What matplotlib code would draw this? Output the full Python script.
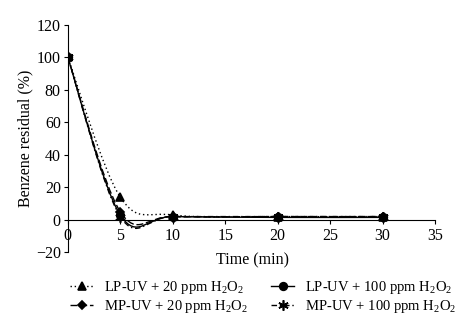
import numpy as np
import matplotlib
matplotlib.use("Agg")
import matplotlib.pyplot as plt
from matplotlib.path import Path
from matplotlib.patches import PathPatch
from matplotlib.lines import Line2D

plt.rcParams['font.family'] = ['Liberation Serif', 'DejaVu Serif']
plt.rcParams['mathtext.fontset'] = 'custom'
plt.rcParams['mathtext.rm'] = 'Liberation Serif'

time_min = [0, 5, 10, 20, 30]
lp_uv_20 = [100, 14, 3, 2, 2]
lp_uv_100 = [100, 3, 2, 1.5, 1.5]
mp_uv_20 = [100, 5, 2, 2, 2]
mp_uv_100 = [100, 2, 2, 2, 2]
labels = [r'LP-UV + 20 ppm H$_2$O$_2$', r'LP-UV + 100 ppm H$_2$O$_2$',
          r'MP-UV + 20 ppm H$_2$O$_2$', r'MP-UV + 100 ppm H$_2$O$_2$']

FS = 11.5
LFS = 10.5
fig = plt.figure(figsize=(4.74, 3.32), dpi=100)
ax = fig.add_axes([0.143, 0.24, 0.775, 0.685])


def smooth_path(x, y):
    x = np.asarray(x, float)
    y = np.asarray(y, float)
    verts = [(x[0], y[0])]
    codes = [Path.MOVETO]
    n = len(x)
    for i in range(n - 1):
        x0, y0 = (x[i - 1], y[i - 1]) if i > 0 else (x[i], y[i])
        x3, y3 = (x[i + 2], y[i + 2]) if i + 2 < n else (x[i + 1], y[i + 1])
        c1 = (x[i] + (x[i + 1] - x0) / 6, y[i] + (y[i + 1] - y0) / 6)
        c2 = (x[i + 1] - (x3 - x[i]) / 6, y[i + 1] - (y3 - y[i]) / 6)
        verts += [c1, c2, (x[i + 1], y[i + 1])]
        codes += [Path.CURVE4] * 3
    return Path(verts, codes)


series = [
    (lp_uv_20, (0, (1, 2)), '^', 5.5),
    (lp_uv_100, '-', 'o', 5.5),
    (mp_uv_20, (0, (5, 2)), 'D', 4.5),
    (mp_uv_100, (0, (4, 2, 1, 2)), (6, 2, 0), 7.5),
]
handles = []
for (vals, ls, mk, ms), lab in zip(series, labels):
    patch = PathPatch(smooth_path(time_min, vals), fill=False, edgecolor='black',
                      linewidth=1.0, linestyle=ls)
    ax.add_patch(patch)
    ax.plot(time_min, vals, linestyle='none', marker=mk, color='black',
            markersize=ms, markeredgewidth=1.2)
    handles.append(Line2D([], [], color='black', linestyle=ls, marker=mk,
                          markersize=ms, linewidth=1.0, markeredgewidth=1.2))

ax.set_xlim(0, 35)
ax.set_ylim(-20, 120)
ax.set_xticks(range(0, 36, 5))
ax.set_yticks(range(-20, 121, 20))
ax.spines['top'].set_visible(False)
ax.spines['right'].set_visible(False)
ax.spines['bottom'].set_position(('data', 0))
ax.tick_params(direction='out', length=3, width=0.8, labelsize=FS, pad=2)
ax.tick_params(axis='x', pad=3)
ax.set_ylabel('Benzene residual (%)', fontsize=FS, labelpad=2)
fig.text(0.532, 0.215, 'Time (min)', fontsize=FS, ha='center', va='center')

order = [0, 2, 1, 3]
fig.legend([handles[i] for i in order], [labels[i] for i in order],
           loc='center', bbox_to_anchor=(0.555, 0.105),
           ncol=2, frameon=False, fontsize=LFS, handlelength=1.6,
           columnspacing=1.6, handletextpad=0.7, labelspacing=0.1,
           borderpad=0.1)

fig.savefig('out.png', dpi=100)
